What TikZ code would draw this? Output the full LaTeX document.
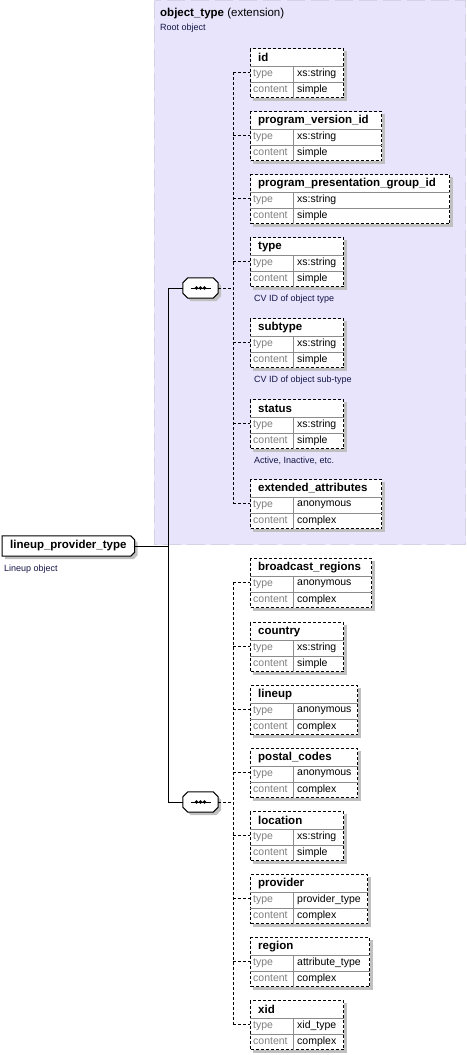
\documentclass[tikz,border=0pt]{standalone}
\usepackage{fontspec}
\setmainfont{Liberation Sans}
\definecolor{extfill}{RGB}{231,228,252}
\definecolor{extedge}{RGB}{212,210,228}
\definecolor{shadowgray}{RGB}{192,192,192}
\definecolor{rowgray}{RGB}{140,140,140}
\definecolor{labelgray}{RGB}{128,128,128}
\definecolor{desctext}{RGB}{20,20,70}
\pgfdeclarelayer{back}
\pgfdeclarelayer{shade}
\pgfsetlayers{back,shade,main}

\begin{document}
\begin{tikzpicture}[x=1pt,y=-1pt,
	namefont/.style={font=\fontsize{11.5}{13}\selectfont\bfseries},
	rowfont/.style={font=\fontsize{10.5}{12}\selectfont},
	descfont/.style={font=\fontsize{9}{10}\selectfont, text=desctext},
	dropped/.style={fill=shadowgray, transform canvas={shift={(3pt,-3pt)}}},
	elembox/.style={draw, line width=1pt, dash pattern=on 3pt off 2pt, fill=white,
		minimum height=49pt, anchor=north west},
	rowline/.style={draw=rowgray, line width=1pt},
	conn/.style={line width=1pt, dash pattern=on 3pt off 2pt},
	tree/.style={line width=1pt},
	seqnode/.style={minimum width=35pt, minimum height=20pt},
	seqshape/.style={insert path={([xshift=5pt]#1.north west) -- ([xshift=-5pt]#1.north east)
		-- ([yshift=-5pt]#1.north east) -- ([yshift=5pt]#1.south east)
		-- ([xshift=-5pt]#1.south east) -- ([xshift=5pt]#1.south west)
		-- ([yshift=5pt]#1.south west) -- ([yshift=-5pt]#1.north west) -- cycle}},
	rootshape/.style={insert path={(#1.north west) -- ([xshift=-4pt]#1.north east)
		-- ([yshift=-4pt]#1.north east) -- ([yshift=4pt]#1.south east)
		-- ([xshift=-4pt]#1.south east) -- (#1.south west) -- cycle}}]
	\tikzstyle{every node}+=[inner sep=0pt]
	\useasboundingbox (0,0) rectangle (466,1055);

	% extension area
	\begin{pgfonlayer}{back}
		\fill [extfill] (154,0) rectangle (466,545);
		\draw [extedge, dash pattern=on 18pt off 6pt] (154.5,0.5) rectangle (465.5,544.5);
	\end{pgfonlayer}
	\node [anchor=west, font=\fontsize{11.5}{13}\selectfont] (exttitle) at (160,14) {\textbf{object\_type} (extension)};
	\node [descfont, anchor=west] (extdesc) at (160,28) {Root object};

	% root element
	\node [namefont, minimum height=20pt, inner xsep=8pt, anchor=west] (root) at (2,546) {lineup\_provider\_type};
	\node [descfont, anchor=west] (rootdesc) at (4,569) {Lineup object};
	\begin{pgfonlayer}{shade}
		\fill [dropped] (root.center) [rootshape=root];
		\draw [line width=1pt, fill=white] (root.center) [rootshape=root];
	\end{pgfonlayer}

	% sequences
	\coordinate (trunk) at (168,546);
	\node [seqnode] (seq1) at (200.5,288) {};
	\node [seqnode] (seq2) at (200.5,802) {};
	\coordinate (bus1) at (233,288);
	\coordinate (bus2) at (233,802);
	\draw [tree] (root.east) -- (root.east -| trunk);
	\draw [tree] (seq1.west) -- (seq1.west -| trunk) -- (seq2.west -| trunk) -- (seq2.west);
	\draw [conn] (seq1.east) -- (bus1);
	\draw [conn] (seq2.east) -- (bus2);
	\foreach \s in {seq1,seq2} {
		\begin{pgfonlayer}{shade}
			\fill [dropped] (\s.center) [seqshape=\s];
			\draw [line width=1pt, fill=white] (\s.center) [seqshape=\s];
		\end{pgfonlayer}
		\draw [line width=1pt] ([xshift=-10pt]\s.center) -- ([xshift=10pt]\s.center);
		\foreach \dx in {-4,0,4}
			\fill ([xshift=\dx pt]\s.center) circle (1.8);
	}

	% elements
	\foreach \n/\t/\r/\ti/\ty/\co/\de in {
		id/48/343/id/xs:string/simple/,
		pvid/111/381/program\_version\_id/xs:string/simple/,
		ppgid/174/449/program\_presentation\_group\_id/xs:string/simple/,
		type/237/343/type/xs:string/simple/CV ID of object type,
		subtype/318/343/subtype/xs:string/simple/CV ID of object sub-type,
		status/399/343/status/xs:string/simple/{Active, Inactive, etc.},
		extattr/479/381/extended\_attributes/anonymous/complex/,
		bcast/558/371/broadcast\_regions/anonymous/complex/,
		country/622/343/country/xs:string/simple/,
		lineup/685/357/lineup/anonymous/complex/,
		postal/748/357/postal\_codes/anonymous/complex/,
		location/811/343/location/xs:string/simple/,
		provider/874/367/provider/provider\_type/complex/,
		region/937/369/region/attribute\_type/complex/,
		xid/1000/343/xid/xid\_type/complex/} {
		\node [elembox, minimum width={(\r-250)*1pt}] (\n) at (250,\t) {};
		\begin{pgfonlayer}{shade}
			\fill [dropped] (\n.north west) rectangle (\n.south east);
		\end{pgfonlayer}
		\draw [rowline] ([yshift=-18pt]\n.north west) -- ([yshift=-18pt]\n.north east);
		\draw [rowline] ([yshift=-34pt]\n.north west) -- ([yshift=-34pt]\n.north east);
		\draw [rowline] ([xshift=43pt,yshift=-18pt]\n.north west) -- ([xshift=43pt]\n.south west);
		\node [namefont, anchor=west] (\n-name) at ([xshift=8pt,yshift=-9.5pt]\n.north west) {\ti};
		\node [rowfont, text=labelgray, anchor=west] (\n-tl) at ([xshift=3pt,yshift=-26pt]\n.north west) {type};
		\node [rowfont, anchor=west] (\n-tv) at ([xshift=47pt,yshift=-26pt]\n.north west) {\ty};
		\node [rowfont, text=labelgray, anchor=west] (\n-cl) at ([xshift=3pt,yshift=-41.5pt]\n.north west) {content};
		\node [rowfont, anchor=west] (\n-cv) at ([xshift=47pt,yshift=-41.5pt]\n.north west) {\co};
		\node [descfont, anchor=west] (\n-desc) at ([xshift=4pt,yshift=-62pt]\n.north west) {\de};
		\coordinate (\n-in) at ([yshift=-24pt]\n.north west);
	}

	% connectors to the children
	\draw [conn] (id-in -| bus1) -- (extattr-in -| bus1);
	\foreach \n in {id,pvid,ppgid,type,subtype,status,extattr}
		\draw [conn] (\n-in -| bus1) -- (\n-in);
	\draw [conn] (bcast-in -| bus2) -- (xid-in -| bus2);
	\foreach \n in {bcast,country,lineup,postal,location,provider,region,xid}
		\draw [conn] (\n-in -| bus2) -- (\n-in);
\end{tikzpicture}
\end{document}
